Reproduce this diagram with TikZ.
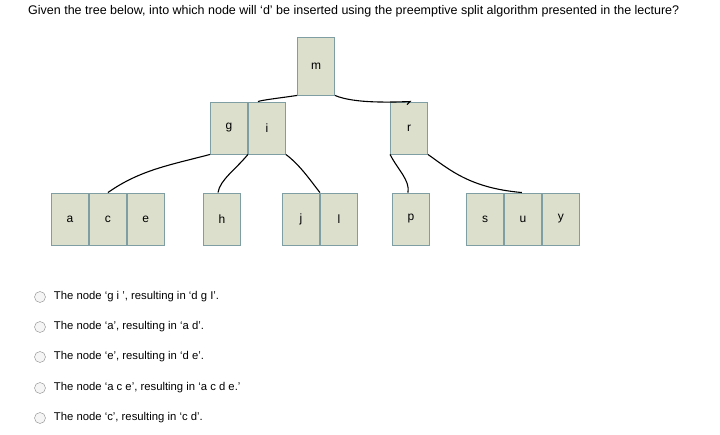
\documentclass[tikz,border=0pt]{standalone}
\usepackage{fontspec}
\setmainfont{Liberation Sans}
\usetikzlibrary{calc,shapes,positioning}
\definecolor{cellfill}{HTML}{DCDFCC}
\definecolor{celldraw}{HTML}{7F9EA3}
\begin{document}
\begin{tikzpicture}[x=1pt,y=-1pt,node distance=0pt and 0pt,inner sep=0pt,
  every node/.style={font=\fontsize{11.3}{13}\selectfont},
  cell/.style={draw=celldraw,fill=cellfill,line width=0.9pt,minimum width=37pt,minimum height=52pt,font=\fontsize{12}{14}\selectfont},
  edge/.style={line width=1.1pt},
  radio/.style={circle,draw=black!45,fill=black!4,minimum width=11pt}]
          \useasboundingbox (0,0) rectangle (720,435);
          \node[anchor=west,font=\fontsize{12.5}{14}\selectfont] at (28,11) (q) {Given the tree below, into which node will `d' be inserted using the preemptive split algorithm presented in the lecture?};

          \node[cell,minimum height=58pt] at (316,66) (m) {m};
          \node[cell] at (229,128) (g) {g};
          \node[cell,right=of g] (i) {i};
          \node[cell] at (409,128) (r) {r};
          \node[cell] at (70,219) (a) {a};
          \node[cell,right=of a] (c) {c};
          \node[cell,right=of c] (e) {e};
          \node[cell] at (222,219) (h) {h};
          \node[cell] at (301,219) (j) {j};
          \node[cell,right=of j] (l) {l};
          \node[cell] at (411,219) (p) {p};
          \node[cell] at (485,219) (s) {s};
          \node[cell,right=of s] (u) {u};
          \node[cell,right=of u] (y) {y};

          \draw[edge] (m.south west) .. controls (280,98) and (262,100) .. ([xshift=10pt]i.north west);
          \draw[edge] (m.south east) .. controls (355,104) and (395,102) .. ([xshift=1pt]r.north) -- ++(-3,3);
          \draw[edge] (g.south west) .. controls (170,165) and (140,170) .. (c.north);
          \draw[edge] (i.south west) .. controls (235,170) and (220,180) .. ([xshift=-4pt]h.north);
          \draw[edge] (i.south east) .. controls (300,165) and (310,180) .. (l.north west);
          \draw[edge] (r.south west) .. controls (398,170) and (410,180) .. ([xshift=-3pt]p.north);
          \draw[edge] (r.south east) .. controls (450,170) and (470,188) .. ([xshift=-1pt]u.north);

          \foreach \n/\yy/\txt in {o1/297/{The node `g i ', resulting in `d g I'.},
                                   o2/327/{The node `a', resulting in `a d'.},
                                   o3/357/{The node `e', resulting in `d e'.},
                                   o4/388/{The node `a c e', resulting in `a c d e.'},
                                   o5/418/{The node `c', resulting in `c d'.}}{
            \node[radio] at (40,\yy) (\n) {};
            \node[anchor=west,right=8pt of \n] {\txt};
          }
        \end{tikzpicture}
\end{document}
